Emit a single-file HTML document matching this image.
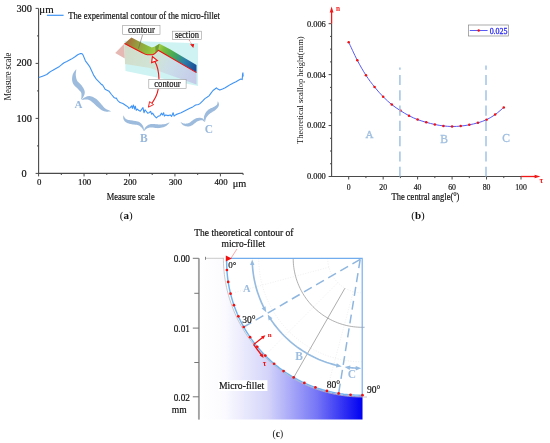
<!DOCTYPE html>
<html><head><meta charset="utf-8"><title>Micro-fillet contour</title>
<style>html,body{margin:0;padding:0;background:#fff;width:550px;height:443px;overflow:hidden}svg{display:block}</style>
</head><body>
<svg width="550" height="443" viewBox="0 0 550 443" font-family="'Liberation Serif', 'Times New Roman', serif">
<path d="M76.25,69.34 L76,69.56 L75.73,69.85 L75.43,70.19 L75.1,70.58 L74.75,71.02 L74.39,71.5 L74.03,72.02 L73.69,72.56 L73.36,73.14 L73.07,73.74 L72.82,74.36 L72.63,74.98 L72.48,75.58 L72.36,76.18 L72.25,76.8 L72.16,77.44 L72.1,78.1 L72.07,78.77 L72.08,79.46 L72.12,80.16 L72.21,80.86 L72.35,81.57 L72.54,82.28 L72.8,83 L73.16,83.74 L73.58,84.43 L74.05,85.06 L74.54,85.63 L75.04,86.16 L75.54,86.66 L76.03,87.11 L76.5,87.54 L76.93,87.93 L77.33,88.29 L77.66,88.61 L77.96,88.92 L78.29,89.29 L78.64,89.68 L78.98,90.04 L79.31,90.39 L79.61,90.72 L79.89,91.03 L80.15,91.32 L80.39,91.6 L80.59,91.86 L80.78,92.11 L80.93,92.34 L81.06,92.56 L81.17,92.77 L81.27,93.02 L81.35,93.31 L81.41,93.63 L81.45,93.98 L81.47,94.35 L81.48,94.73 L81.48,95.12 L81.48,95.51 L81.46,95.89 L81.45,96.26 L81.44,96.59 L81.44,96.88 L81.42,97.16 L81.39,97.44 L81.35,97.72 L81.29,98 L81.24,98.26 L81.17,98.52 L81.11,98.77 L81.06,98.99 L81.02,99.2 L80.99,99.39 L80.99,99.55 L80.99,99.55 L81.13,99.47 L81.28,99.36 L81.44,99.23 L81.63,99.09 L81.82,98.92 L82.03,98.72 L82.24,98.51 L82.46,98.27 L82.67,98.01 L82.88,97.73 L83.07,97.41 L83.24,97.09 L83.41,96.78 L83.58,96.45 L83.76,96.09 L83.95,95.7 L84.13,95.29 L84.3,94.85 L84.45,94.38 L84.59,93.88 L84.69,93.36 L84.75,92.81 L84.76,92.23 L84.71,91.64 L84.6,91.07 L84.45,90.53 L84.27,90 L84.06,89.49 L83.83,89 L83.58,88.52 L83.31,88.05 L83.03,87.59 L82.75,87.14 L82.46,86.7 L82.17,86.26 L81.85,85.79 L81.44,85.26 L80.98,84.73 L80.51,84.23 L80.04,83.76 L79.57,83.32 L79.12,82.89 L78.7,82.49 L78.31,82.11 L77.96,81.75 L77.67,81.43 L77.44,81.14 L77.25,80.87 L77.08,80.56 L76.9,80.18 L76.73,79.77 L76.58,79.33 L76.43,78.86 L76.3,78.38 L76.19,77.87 L76.09,77.36 L76,76.84 L75.92,76.33 L75.86,75.82 L75.8,75.34 L75.76,74.89 L75.75,74.4 L75.78,73.87 L75.82,73.31 L75.89,72.73 L75.97,72.15 L76.05,71.58 L76.13,71.04 L76.2,70.53 L76.25,70.07 L76.28,69.67 L76.25,69.34Z" fill="#9dbbdc"/>
<path d="M81.53,99.55 L81.93,99.63 L82.43,99.66 L83.02,99.66 L83.67,99.64 L84.36,99.62 L85.07,99.59 L85.79,99.57 L86.49,99.56 L87.14,99.57 L87.73,99.61 L88.22,99.67 L88.6,99.77 L88.92,99.89 L89.24,100.03 L89.56,100.2 L89.87,100.38 L90.19,100.58 L90.51,100.81 L90.84,101.05 L91.19,101.32 L91.55,101.6 L91.92,101.9 L92.32,102.21 L92.7,102.5 L93.04,102.77 L93.35,103.04 L93.68,103.33 L94.01,103.65 L94.36,103.99 L94.73,104.34 L95.11,104.72 L95.5,105.11 L95.92,105.5 L96.35,105.91 L96.81,106.31 L97.27,106.69 L97.7,107.04 L98.13,107.4 L98.58,107.77 L99.04,108.17 L99.53,108.58 L100.04,108.99 L100.58,109.39 L101.13,109.79 L101.71,110.16 L102.31,110.51 L102.93,110.82 L103.58,111.09 L104.27,111.31 L104.99,111.46 L105.72,111.57 L106.44,111.63 L107.16,111.65 L107.87,111.65 L108.54,111.62 L109.18,111.58 L109.76,111.53 L110.27,111.47 L110.71,111.41 L111.07,111.34 L111.07,111.34 L110.77,111.13 L110.36,110.93 L109.89,110.71 L109.35,110.49 L108.78,110.25 L108.18,110 L107.57,109.74 L106.96,109.47 L106.39,109.19 L105.86,108.91 L105.39,108.62 L105.01,108.34 L104.66,108.03 L104.31,107.7 L103.95,107.32 L103.6,106.93 L103.24,106.5 L102.87,106.06 L102.5,105.6 L102.12,105.13 L101.73,104.65 L101.32,104.17 L100.9,103.7 L100.48,103.25 L100.11,102.86 L99.75,102.47 L99.4,102.08 L99.04,101.68 L98.67,101.27 L98.28,100.86 L97.88,100.45 L97.46,100.03 L97.02,99.62 L96.56,99.23 L96.06,98.84 L95.56,98.5 L95.1,98.21 L94.66,97.93 L94.19,97.65 L93.7,97.38 L93.18,97.11 L92.64,96.86 L92.07,96.63 L91.48,96.43 L90.86,96.27 L90.21,96.15 L89.54,96.09 L88.83,96.08 L88.08,96.17 L87.34,96.34 L86.6,96.58 L85.88,96.88 L85.18,97.21 L84.5,97.57 L83.85,97.94 L83.25,98.31 L82.71,98.66 L82.23,98.99 L81.84,99.29 L81.53,99.55Z" fill="#9dbbdc"/>
<path d="M123.51,115.36 L123.45,115.53 L123.41,115.75 L123.36,116 L123.31,116.28 L123.27,116.59 L123.24,116.92 L123.22,117.26 L123.21,117.62 L123.23,117.99 L123.28,118.36 L123.36,118.73 L123.48,119.09 L123.61,119.4 L123.74,119.7 L123.89,120 L124.06,120.3 L124.26,120.6 L124.48,120.9 L124.72,121.19 L124.99,121.48 L125.29,121.76 L125.61,122.03 L125.97,122.28 L126.35,122.53 L126.78,122.76 L127.23,122.97 L127.69,123.16 L128.17,123.34 L128.66,123.49 L129.15,123.64 L129.65,123.77 L130.15,123.89 L130.64,124 L131.13,124.11 L131.6,124.21 L132.08,124.31 L132.62,124.41 L133.18,124.49 L133.73,124.56 L134.27,124.61 L134.8,124.65 L135.32,124.69 L135.81,124.73 L136.28,124.77 L136.72,124.82 L137.12,124.88 L137.47,124.95 L137.8,125.04 L138.12,125.15 L138.45,125.28 L138.77,125.43 L139.1,125.6 L139.41,125.78 L139.73,125.98 L140.03,126.19 L140.33,126.41 L140.62,126.65 L140.91,126.89 L141.18,127.14 L141.44,127.38 L141.67,127.62 L141.9,127.91 L142.14,128.24 L142.37,128.59 L142.59,128.97 L142.81,129.35 L143.02,129.73 L143.22,130.1 L143.4,130.43 L143.58,130.73 L143.74,130.99 L143.9,131.17 L143.9,131.17 L143.91,130.93 L143.91,130.64 L143.91,130.29 L143.89,129.91 L143.87,129.48 L143.83,129.04 L143.77,128.57 L143.69,128.1 L143.59,127.62 L143.46,127.14 L143.29,126.68 L143.09,126.24 L142.87,125.85 L142.65,125.46 L142.4,125.08 L142.13,124.7 L141.84,124.33 L141.53,123.96 L141.19,123.6 L140.82,123.26 L140.44,122.93 L140.02,122.61 L139.58,122.32 L139.1,122.04 L138.57,121.79 L138.02,121.58 L137.46,121.41 L136.89,121.27 L136.33,121.15 L135.78,121.05 L135.23,120.97 L134.7,120.89 L134.19,120.81 L133.71,120.74 L133.25,120.67 L132.81,120.58 L132.33,120.49 L131.83,120.4 L131.33,120.33 L130.83,120.26 L130.35,120.19 L129.88,120.13 L129.43,120.07 L129.01,120.01 L128.61,119.95 L128.25,119.88 L127.93,119.82 L127.64,119.75 L127.37,119.67 L127.11,119.57 L126.87,119.47 L126.63,119.36 L126.41,119.25 L126.2,119.12 L126,118.99 L125.8,118.84 L125.61,118.68 L125.42,118.52 L125.23,118.34 L125.06,118.18 L124.91,118.02 L124.76,117.82 L124.61,117.59 L124.47,117.33 L124.33,117.05 L124.2,116.76 L124.07,116.47 L123.95,116.2 L123.83,115.94 L123.72,115.7 L123.62,115.51 L123.51,115.36Z" fill="#9dbbdc"/>
<path d="M143.9,131.17 L144.07,131.05 L144.25,130.88 L144.44,130.67 L144.65,130.43 L144.87,130.17 L145.11,129.91 L145.36,129.65 L145.61,129.39 L145.87,129.16 L146.14,128.95 L146.4,128.78 L146.67,128.64 L146.98,128.49 L147.32,128.33 L147.67,128.18 L148.03,128.04 L148.4,127.9 L148.78,127.78 L149.16,127.67 L149.56,127.57 L149.96,127.5 L150.37,127.44 L150.78,127.4 L151.19,127.38 L151.6,127.39 L152.07,127.43 L152.6,127.5 L153.18,127.59 L153.8,127.69 L154.45,127.79 L155.13,127.9 L155.83,127.99 L156.53,128.07 L157.25,128.12 L157.97,128.13 L158.67,128.1 L159.32,128.04 L159.94,127.96 L160.55,127.87 L161.16,127.75 L161.76,127.62 L162.35,127.47 L162.93,127.31 L163.49,127.13 L164.03,126.93 L164.56,126.72 L165.06,126.5 L165.55,126.25 L166.04,125.98 L166.51,125.66 L166.95,125.32 L167.36,124.96 L167.75,124.6 L168.1,124.23 L168.42,123.88 L168.71,123.53 L168.97,123.21 L169.19,122.92 L169.38,122.67 L169.53,122.45 L169.53,122.45 L169.26,122.5 L168.96,122.6 L168.61,122.74 L168.24,122.9 L167.83,123.07 L167.41,123.25 L166.97,123.43 L166.52,123.61 L166.07,123.77 L165.62,123.91 L165.19,124.02 L164.77,124.1 L164.34,124.16 L163.87,124.22 L163.38,124.27 L162.88,124.31 L162.37,124.35 L161.84,124.38 L161.31,124.4 L160.77,124.42 L160.22,124.43 L159.66,124.43 L159.11,124.43 L158.57,124.43 L158.06,124.41 L157.51,124.36 L156.92,124.29 L156.29,124.22 L155.63,124.14 L154.95,124.06 L154.26,123.99 L153.56,123.93 L152.86,123.9 L152.15,123.91 L151.46,123.96 L150.79,124.06 L150.17,124.21 L149.59,124.39 L149.05,124.6 L148.54,124.83 L148.06,125.09 L147.61,125.37 L147.19,125.65 L146.8,125.95 L146.43,126.25 L146.1,126.55 L145.79,126.85 L145.49,127.16 L145.19,127.51 L144.93,127.89 L144.71,128.28 L144.53,128.67 L144.38,129.06 L144.26,129.44 L144.16,129.8 L144.08,130.14 L144.01,130.45 L143.96,130.73 L143.92,130.97 L143.9,131.17Z" fill="#9dbbdc"/>
<path d="M180.64,122.06 L180.73,122.25 L180.86,122.48 L181.01,122.74 L181.19,123.04 L181.4,123.36 L181.63,123.69 L181.9,124.02 L182.19,124.36 L182.52,124.68 L182.89,124.99 L183.3,125.26 L183.73,125.49 L184.15,125.67 L184.58,125.84 L185.03,125.99 L185.52,126.14 L186.03,126.26 L186.57,126.36 L187.13,126.43 L187.72,126.47 L188.32,126.46 L188.95,126.41 L189.59,126.3 L190.26,126.13 L190.96,125.87 L191.65,125.53 L192.31,125.13 L192.95,124.71 L193.58,124.25 L194.18,123.79 L194.76,123.33 L195.31,122.88 L195.82,122.47 L196.3,122.11 L196.72,121.81 L197.11,121.57 L197.52,121.36 L197.95,121.16 L198.38,120.97 L198.82,120.8 L199.24,120.65 L199.66,120.52 L200.07,120.41 L200.47,120.32 L200.84,120.25 L201.2,120.21 L201.53,120.18 L201.81,120.17 L202.04,120.18 L202.28,120.23 L202.55,120.34 L202.83,120.5 L203.12,120.69 L203.42,120.92 L203.7,121.15 L203.97,121.39 L204.23,121.61 L204.46,121.81 L204.68,121.96 L204.88,122.06 L204.88,122.06 L204.82,121.86 L204.74,121.61 L204.64,121.32 L204.53,121 L204.39,120.65 L204.22,120.28 L204.02,119.91 L203.79,119.53 L203.51,119.17 L203.17,118.83 L202.76,118.54 L202.31,118.31 L201.85,118.15 L201.39,118.03 L200.9,117.94 L200.39,117.87 L199.86,117.84 L199.31,117.83 L198.74,117.85 L198.16,117.91 L197.57,118 L196.97,118.12 L196.36,118.28 L195.73,118.48 L195.06,118.77 L194.39,119.13 L193.74,119.53 L193.11,119.96 L192.49,120.42 L191.9,120.88 L191.33,121.33 L190.79,121.76 L190.28,122.15 L189.82,122.48 L189.41,122.75 L189.05,122.95 L188.69,123.11 L188.3,123.25 L187.91,123.37 L187.51,123.46 L187.1,123.53 L186.69,123.59 L186.27,123.62 L185.86,123.64 L185.45,123.64 L185.05,123.63 L184.66,123.61 L184.31,123.59 L184,123.56 L183.68,123.49 L183.35,123.38 L183.01,123.25 L182.66,123.08 L182.32,122.91 L181.98,122.73 L181.67,122.55 L181.37,122.38 L181.1,122.23 L180.85,122.12 L180.64,122.06Z" fill="#9dbbdc"/>
<path d="M204.88,122.06 L205,121.81 L205.1,121.5 L205.19,121.13 L205.29,120.72 L205.39,120.29 L205.49,119.84 L205.61,119.38 L205.74,118.92 L205.88,118.49 L206.04,118.09 L206.21,117.74 L206.4,117.43 L206.62,117.11 L206.87,116.76 L207.15,116.41 L207.44,116.05 L207.75,115.69 L208.07,115.33 L208.41,114.97 L208.75,114.62 L209.1,114.28 L209.45,113.96 L209.8,113.65 L210.13,113.37 L210.44,113.13 L210.79,112.89 L211.19,112.65 L211.62,112.4 L212.08,112.14 L212.56,111.87 L213.06,111.6 L213.56,111.31 L214.07,111 L214.57,110.68 L215.06,110.33 L215.5,109.96 L215.87,109.62 L216.22,109.29 L216.55,108.96 L216.88,108.62 L217.19,108.27 L217.49,107.92 L217.77,107.56 L218.03,107.19 L218.27,106.81 L218.48,106.41 L218.66,106.01 L218.81,105.57 L218.91,105.1 L218.94,104.63 L218.91,104.17 L218.84,103.73 L218.74,103.31 L218.62,102.91 L218.48,102.54 L218.34,102.19 L218.2,101.88 L218.06,101.61 L217.95,101.38 L217.84,101.2 L217.84,101.2 L217.76,101.4 L217.7,101.66 L217.64,101.96 L217.6,102.3 L217.55,102.65 L217.49,103.01 L217.42,103.38 L217.34,103.72 L217.25,104.05 L217.13,104.33 L217.01,104.55 L216.87,104.72 L216.71,104.89 L216.52,105.07 L216.3,105.26 L216.06,105.44 L215.8,105.63 L215.51,105.82 L215.21,106.02 L214.88,106.22 L214.53,106.43 L214.17,106.65 L213.79,106.88 L213.42,107.09 L213.07,107.28 L212.68,107.47 L212.25,107.67 L211.78,107.88 L211.27,108.11 L210.75,108.35 L210.2,108.62 L209.65,108.92 L209.1,109.24 L208.55,109.61 L208.01,110.01 L207.52,110.45 L207.08,110.9 L206.68,111.36 L206.3,111.84 L205.95,112.33 L205.61,112.84 L205.3,113.36 L205.02,113.88 L204.76,114.41 L204.53,114.95 L204.33,115.48 L204.17,116.01 L204.03,116.54 L203.93,117.11 L203.89,117.69 L203.9,118.25 L203.95,118.8 L204.04,119.33 L204.14,119.84 L204.27,120.32 L204.4,120.76 L204.53,121.16 L204.65,121.51 L204.77,121.81 L204.88,122.06Z" fill="#9dbbdc"/>
<text x="78.5" y="108.4" font-size="11" text-anchor="middle" fill="#98b8dc" font-weight="bold">A</text>
<text x="143.9" y="142.4" font-size="11.5" text-anchor="middle" fill="#98b8dc" font-weight="bold">B</text>
<text x="208.8" y="133.2" font-size="11.5" text-anchor="middle" fill="#98b8dc" font-weight="bold">C</text>
<path d="M38.6,8.4V173.4H243.12" fill="none" stroke="#4a4a4a" stroke-width="1.1"/>
<path d="M35.6,173.4H38.6M37,145.9H38.6M35.6,118.4H38.6M37,90.9H38.6M35.6,63.4H38.6M37,35.9H38.6M35.6,8.4H38.6M38.6,173.4V176.4M61.33,173.4V175M84.05,173.4V176.4M106.78,173.4V175M129.5,173.4V176.4M152.22,173.4V175M174.95,173.4V176.4M197.68,173.4V175M220.4,173.4V176.4M243.12,173.4V175" stroke="#4a4a4a" stroke-width="1" fill="none"/>
<text x="24.2" y="176.6" font-size="10.3" text-anchor="middle" fill="#111" font-weight="normal" stroke="#111" stroke-width="0.18">0</text>
<text x="24.2" y="121.7" font-size="10.3" text-anchor="middle" fill="#111" font-weight="normal" stroke="#111" stroke-width="0.18">100</text>
<text x="24.2" y="66.4" font-size="10.3" text-anchor="middle" fill="#111" font-weight="normal" stroke="#111" stroke-width="0.18">200</text>
<text x="24.2" y="11.5" font-size="10.3" text-anchor="middle" fill="#111" font-weight="normal" stroke="#111" stroke-width="0.18">300</text>
<text x="39.2" y="185.1" font-size="8.8" text-anchor="middle" fill="#111" font-weight="normal" stroke="#111" stroke-width="0.18">0</text>
<text x="84.65" y="185.1" font-size="8.8" text-anchor="middle" fill="#111" font-weight="normal" stroke="#111" stroke-width="0.18">100</text>
<text x="130.1" y="185.1" font-size="8.8" text-anchor="middle" fill="#111" font-weight="normal" stroke="#111" stroke-width="0.18">200</text>
<text x="175.55" y="185.1" font-size="8.8" text-anchor="middle" fill="#111" font-weight="normal" stroke="#111" stroke-width="0.18">300</text>
<text x="221" y="185.1" font-size="8.8" text-anchor="middle" fill="#111" font-weight="normal" stroke="#111" stroke-width="0.18">400</text>
<text x="46.5" y="12.8" font-size="10.9" text-anchor="middle" fill="#111" font-weight="normal" stroke="#111" stroke-width="0.18">&#956;m</text>
<text x="239.5" y="186.5" font-size="10.3" text-anchor="middle" fill="#111" font-weight="normal" stroke="#111" stroke-width="0.18">&#956;m</text>
<text x="130.7" y="199.6" font-size="9.6" text-anchor="middle" fill="#111" font-weight="normal" textLength="48" lengthAdjust="spacingAndGlyphs" stroke="#111" stroke-width="0.18">Measure scale</text>
<text transform="translate(10.6,76.6) rotate(-90)" x="0" y="0" font-size="9.6" text-anchor="middle" fill="#111" textLength="47.8" lengthAdjust="spacingAndGlyphs">Measure scale</text>
<text x="126.2" y="218.7" font-size="11" text-anchor="middle" fill="#111" font-weight="normal" stroke-width="0">(<tspan font-weight="bold">a</tspan>)</text>
<path d="M46.9,15.3H63.6" stroke="#4094f4" stroke-width="1.2"/>
<text x="68.2" y="18.6" font-size="9.6" text-anchor="start" fill="#111" font-weight="normal" textLength="151.8" lengthAdjust="spacingAndGlyphs" stroke="#111" stroke-width="0.18">The experimental contour of the micro-fillet</text>
<polyline points="38.8,77.6 43.2,75.9 46.8,74.5 49.5,72.3 52.5,70.4 55.9,68.5 59.5,66.4 62,64.3 64.1,62.7 66.8,61.5 71.4,59.1 75,56.8 77.7,54.8 80.5,53.6 81.3,53.5 82.4,54 83.3,55.6 85.4,60.8 87.5,63.6 89.5,66.3 91.5,70.5 93.6,75.1 96.3,79.1 99.5,82.3 101.6,84.6 102.6,84.9 103.5,86.5 105.1,89.3 107,90.2 109.1,91.3 111.5,94.5 113.9,97.4 115.5,98.3 116.3,98 117.5,100.3 119.2,101.8 120,102.55 122.91,103.56 125.82,105.45 128,106.91 128.73,108.36 130.18,107.64 131.64,105.89 132.36,108.36 133.38,105.02 134.55,109.09 135.27,106.18 136.29,110.25 137.45,109.09 138.91,110.55 140.36,111.27 141.82,109.09 142.98,107.64 144,112.73 145.02,109.82 146.18,111.27 147.64,113.16 149.09,112.73 150.55,111.27 151.71,114.18 152.73,113.16 154.18,115.64 156.36,117.82 158.11,116.36 160,115.64 161.45,113.16 162.47,114.91 163.64,112.73 164.36,116.07 165.82,114.91 168,115.64 170.18,114.91 171.64,116.36 173.09,112.73 174.11,116.07 176,114.62 178.18,113.75 181.09,112.73 184,111.27 186.91,109.82 189.82,108.36 192.73,106.91 195.64,105.02 198.55,104.44 200.2,103.4 202.5,101.2 204.9,98.6 207,97.3 209,95.9 211,93.2 213,90.5 215,89 216.4,87.8 217.8,89.1 219.8,90.1 222.5,89 225.2,87.8 228,86 230.6,84.4 233.3,83 236,81.7 238.5,80.2 240.8,79 242.2,79.6 242.6,74 242.9,72.9 243.2,76.5" fill="none" stroke="#4094f4" stroke-width="1.1" stroke-linejoin="round"/>

<defs>
<linearGradient id="topg" x1="128" y1="38" x2="197" y2="66" gradientUnits="userSpaceOnUse">
<stop offset="0" stop-color="#a86a3a"/><stop offset="0.13" stop-color="#98983e"/><stop offset="0.3" stop-color="#8cbc3c"/>
<stop offset="0.42" stop-color="#a8d048"/><stop offset="0.5" stop-color="#78bc3c"/>
<stop offset="0.66" stop-color="#44a858"/><stop offset="0.82" stop-color="#2a80a8"/><stop offset="1" stop-color="#1a4a98"/></linearGradient>
<linearGradient id="frontg" x1="125" y1="50" x2="197" y2="86" gradientUnits="userSpaceOnUse">
<stop offset="0" stop-color="#d2ddca"/><stop offset="0.4" stop-color="#d0e4d6"/><stop offset="0.62" stop-color="#cadcea"/><stop offset="1" stop-color="#c4c8e8"/></linearGradient>
</defs>
<polygon points="115.2,53.1 124.5,43.6 124.8,58.5" fill="#e6b8b4"/>
<polygon points="124.5,40.8 198,43.2 198,86 125.5,71" fill="#cff3f3"/>
<path d="M124.5,43.4 L142.7,52.9 Q145,54.5 147.3,54.7 L152.7,54.7 Q155,53.8 156.4,52 L158.2,50.2 L196.5,72.6 L196.5,84.5 L150,68 L125,64 Z" fill="url(#frontg)"/>
<path d="M124.5,43.4 L131.4,37.6 L138.2,41.1 L147.3,45.6 L151.8,47.5 Q154.5,47.2 156.4,45.6 L159.5,43.8 L170,49.3 L196.5,65 L196.5,72.6 L158.2,50.2 L156.4,52 Q155,53.8 152.7,54.7 L147.3,54.7 Q145,54.5 142.7,52.9 Z" fill="url(#topg)"/>
<path d="M124.5,43.4 L142.7,52.9 Q145,54.5 147.3,54.7 L152.7,54.7 Q155,53.8 156.4,52 L158.2,50.2 L196.5,72.6" fill="none" stroke="#ee1111" stroke-width="1.1"/>
<polygon points="155.3,46.4 159.5,43.7 158.6,48 157.6,50.8 155.6,52.6" fill="#5c8a36" opacity="0.75"/>
<path d="M142.5,35 L138.5,48.5" stroke="#555" stroke-width="0.5"/>
<rect x="122.7" y="25.6" width="37.3" height="8.9" fill="#fff" stroke="#999" stroke-width="0.6"/>
<rect x="172.5" y="31.2" width="29" height="8.1" fill="#fff" stroke="#999" stroke-width="0.6"/>
<path d="M189.1,39.9 L191.5,44" stroke="#ee1111" stroke-width="0.6" stroke-dasharray="1,1"/>
<polygon points="190,44.2 194.2,44 193.3,48" fill="#ee1111"/>
<path d="M158.3,88.6 Q157,97 150.6,104.8" fill="none" stroke="#ee1111" stroke-width="1.1"/>
<polygon points="148.4,107.2 149.6,101.6 153.6,104.6" fill="#fff" stroke="#ee1111" stroke-width="0.9"/>
<path d="M159,79.5 Q158.7,68 155,61.8" fill="none" stroke="#ee1111" stroke-width="1.1"/>
<polygon points="152.4,56.6 151.6,62.6 157.4,60.6" fill="#fff" stroke="#ee1111" stroke-width="1.1"/>
<rect x="148.8" y="79.6" width="37.3" height="8.9" fill="#fff" stroke="#999" stroke-width="0.6"/>

<text x="141.4" y="32.6" font-size="9.4" text-anchor="middle" fill="#111" font-weight="normal" textLength="27" lengthAdjust="spacingAndGlyphs" stroke="#111" stroke-width="0.18">contour</text>
<text x="187" y="37.9" font-size="9.4" text-anchor="middle" fill="#111" font-weight="normal" textLength="24" lengthAdjust="spacingAndGlyphs" stroke="#111" stroke-width="0.18">section</text>
<text x="167.5" y="86.8" font-size="9.4" text-anchor="middle" fill="#111" font-weight="normal" textLength="26.5" lengthAdjust="spacingAndGlyphs" stroke="#111" stroke-width="0.18">contour</text>
<path d="M331.6,23.68V176.5H521" fill="none" stroke="#4a4a4a" stroke-width="1.1"/>
<path d="M328.6,176.5H331.6M330,163.76H331.6M330,151.03H331.6M330,138.3H331.6M328.6,125.56H331.6M330,112.83H331.6M330,100.09H331.6M330,87.36H331.6M328.6,74.62H331.6M330,61.89H331.6M330,49.15H331.6M330,36.42H331.6M328.6,23.68H331.6M348.7,176.5V179.5M365.93,176.5V178.1M383.16,176.5V179.5M400.39,176.5V178.1M417.62,176.5V179.5M434.85,176.5V178.1M452.08,176.5V179.5M469.31,176.5V178.1M486.54,176.5V179.5M503.77,176.5V178.1M521,176.5V179.5" stroke="#4a4a4a" stroke-width="1" fill="none"/>
<path d="M331.6,23.68V11.5" stroke="#f01818" stroke-width="1.3"/>
<polygon points="331.6,6.6 329.7,12.6 333.5,12.6" fill="#f01818"/>
<text x="337.9" y="11.1" font-size="7.2" text-anchor="middle" fill="#f01818" font-weight="bold">n</text>
<path d="M521,176.5H535.5" stroke="#f01818" stroke-width="1.3"/>
<polygon points="540.4,176.5 534.6,174.7 534.6,178.3" fill="#f01818"/>
<text x="541.3" y="182.6" font-size="8" text-anchor="middle" fill="#f01818" font-weight="bold">&#964;</text>
<text x="325.8" y="179.4" font-size="8.4" text-anchor="end" fill="#111" font-weight="normal" stroke="#111" stroke-width="0.18">0.000</text>
<text x="325.8" y="128.46" font-size="8.4" text-anchor="end" fill="#111" font-weight="normal" stroke="#111" stroke-width="0.18">0.002</text>
<text x="325.8" y="77.52" font-size="8.4" text-anchor="end" fill="#111" font-weight="normal" stroke="#111" stroke-width="0.18">0.004</text>
<text x="325.8" y="26.58" font-size="8.4" text-anchor="end" fill="#111" font-weight="normal" stroke="#111" stroke-width="0.18">0.006</text>
<text x="348.7" y="190.2" font-size="8.6" text-anchor="middle" fill="#111" font-weight="normal" textLength="3.87" lengthAdjust="spacingAndGlyphs" stroke="#111" stroke-width="0.18">0</text>
<text x="383.16" y="190.2" font-size="8.6" text-anchor="middle" fill="#111" font-weight="normal" textLength="7.74" lengthAdjust="spacingAndGlyphs" stroke="#111" stroke-width="0.18">20</text>
<text x="417.62" y="190.2" font-size="8.6" text-anchor="middle" fill="#111" font-weight="normal" textLength="7.74" lengthAdjust="spacingAndGlyphs" stroke="#111" stroke-width="0.18">40</text>
<text x="452.08" y="190.2" font-size="8.6" text-anchor="middle" fill="#111" font-weight="normal" textLength="7.74" lengthAdjust="spacingAndGlyphs" stroke="#111" stroke-width="0.18">60</text>
<text x="486.54" y="190.2" font-size="8.6" text-anchor="middle" fill="#111" font-weight="normal" textLength="7.74" lengthAdjust="spacingAndGlyphs" stroke="#111" stroke-width="0.18">80</text>
<text x="521" y="190.2" font-size="8.6" text-anchor="middle" fill="#111" font-weight="normal" textLength="11.61" lengthAdjust="spacingAndGlyphs" stroke="#111" stroke-width="0.18">100</text>
<text transform="translate(303.0,90.2) rotate(-90)" x="0" y="0" font-size="8.8" text-anchor="middle" fill="#111" textLength="107.7" lengthAdjust="spacingAndGlyphs">Theoretical scallop height(mm)</text>
<text x="425.5" y="200.2" font-size="9.4" text-anchor="middle" fill="#111" font-weight="normal" textLength="67.9" lengthAdjust="spacingAndGlyphs" stroke="#111" stroke-width="0.18">The central angle(&#176;)</text>
<text x="418" y="219.2" font-size="11" text-anchor="middle" fill="#111" font-weight="normal" stroke-width="0">(<tspan font-weight="bold">b</tspan>)</text>
<text x="369.4" y="137.7" font-size="11" text-anchor="middle" fill="#a0bfe0" font-weight="normal" stroke="#a0bfe0" stroke-width="0.35">A</text>
<text x="444.2" y="142.7" font-size="11.5" text-anchor="middle" fill="#a0bfe0" font-weight="normal" stroke="#a0bfe0" stroke-width="0.35">B</text>
<text x="506.1" y="142.2" font-size="11.5" text-anchor="middle" fill="#a0bfe0" font-weight="normal" stroke="#a0bfe0" stroke-width="0.35">C</text>
<path d="M348.7,42.2 C350.14,45.22 354.44,54.8 357.31,60.3 C360.19,65.8 363.06,70.75 365.93,75.2 C368.8,79.65 371.67,83.42 374.55,87 C377.42,90.58 380.29,93.77 383.16,96.7 C386.03,99.63 388.9,102.28 391.77,104.6 C394.65,106.92 397.52,108.75 400.39,110.6 C403.26,112.45 406.13,114.2 409,115.7 C411.88,117.2 414.75,118.5 417.62,119.6 C420.49,120.7 423.36,121.48 426.24,122.3 C429.11,123.12 431.98,123.9 434.85,124.5 C437.72,125.1 440.59,125.57 443.46,125.9 C446.34,126.23 449.21,126.47 452.08,126.5 C454.95,126.53 457.82,126.38 460.69,126.1 C463.57,125.82 466.44,125.35 469.31,124.8 C472.18,124.25 475.05,123.65 477.92,122.8 C480.8,121.95 483.67,121.07 486.54,119.7 C489.41,118.33 492.28,116.65 495.15,114.6 C498.03,112.55 502.33,108.6 503.77,107.4" fill="none" stroke="#5a5af5" stroke-width="1"/>
<circle cx="348.7" cy="42.2" r="1.25" fill="#f01010"/>
<circle cx="357.31" cy="60.3" r="1.25" fill="#f01010"/>
<circle cx="365.93" cy="75.2" r="1.25" fill="#f01010"/>
<circle cx="374.55" cy="87" r="1.25" fill="#f01010"/>
<circle cx="383.16" cy="96.7" r="1.25" fill="#f01010"/>
<circle cx="391.77" cy="104.6" r="1.25" fill="#f01010"/>
<circle cx="400.39" cy="110.6" r="1.25" fill="#f01010"/>
<circle cx="409" cy="115.7" r="1.25" fill="#f01010"/>
<circle cx="417.62" cy="119.6" r="1.25" fill="#f01010"/>
<circle cx="426.24" cy="122.3" r="1.25" fill="#f01010"/>
<circle cx="434.85" cy="124.5" r="1.25" fill="#f01010"/>
<circle cx="443.46" cy="125.9" r="1.25" fill="#f01010"/>
<circle cx="452.08" cy="126.5" r="1.25" fill="#f01010"/>
<circle cx="460.69" cy="126.1" r="1.25" fill="#f01010"/>
<circle cx="469.31" cy="124.8" r="1.25" fill="#f01010"/>
<circle cx="477.92" cy="122.8" r="1.25" fill="#f01010"/>
<circle cx="486.54" cy="119.7" r="1.25" fill="#f01010"/>
<circle cx="495.15" cy="114.6" r="1.25" fill="#f01010"/>
<circle cx="503.77" cy="107.4" r="1.25" fill="#f01010"/>
<path d="M399.9,176.5V67.4M486,176.5V65.6" stroke="#a2c4e6" stroke-width="1.7" stroke-dasharray="10.2,5.1" stroke-dashoffset="0.4" fill="none" opacity="0.9"/>
<rect x="468.6" y="25" width="40" height="11" fill="#fff" stroke="#888" stroke-width="0.7"/>
<path d="M469.8,30.5H487.6" stroke="#5a5af5" stroke-width="1"/><circle cx="478.7" cy="30.5" r="1.2" fill="#f01010"/>
<text x="498.6" y="33.6" font-size="9.2" text-anchor="middle" fill="#2a2af0" font-weight="normal" textLength="17.9" lengthAdjust="spacingAndGlyphs" stroke="#2a2af0" stroke-width="0.3">0.025</text>
<defs><linearGradient id="mf" x1="199.5" y1="0" x2="362.5" y2="0" gradientUnits="userSpaceOnUse">
<stop offset="0" stop-color="#ffffff"/><stop offset="0.15" stop-color="#fbfbff"/><stop offset="0.42" stop-color="#d4d4fa"/><stop offset="0.72" stop-color="#7676f6"/><stop offset="1" stop-color="#0000f2"/></linearGradient></defs>
<path d="M199.5,258.3 L223.9,258.3 L223.9,257.9 L223.93,260.62 L224.01,263.34 L224.14,266.06 L224.33,268.77 L224.57,271.49 L224.86,274.19 L225.21,276.89 L225.61,279.58 L226.06,282.27 L226.56,284.94 L227.12,287.6 L227.73,290.26 L228.39,292.9 L229.1,295.52 L229.87,298.13 L230.68,300.73 L231.55,303.31 L232.47,305.87 L233.43,308.42 L234.45,310.94 L235.52,313.44 L236.63,315.93 L237.79,318.39 L239.01,320.82 L240.27,323.24 L241.57,325.62 L242.93,327.98 L244.32,330.32 L245.77,332.62 L247.26,334.9 L248.79,337.15 L250.37,339.37 L251.99,341.55 L253.66,343.71 L255.36,345.83 L257.11,347.91 L258.9,349.97 L260.72,351.98 L262.59,353.96 L264.5,355.9 L266.44,357.81 L268.42,359.68 L270.43,361.5 L272.49,363.29 L274.57,365.04 L276.69,366.74 L278.85,368.41 L281.03,370.03 L283.25,371.61 L285.5,373.14 L287.78,374.63 L290.08,376.08 L292.42,377.47 L294.78,378.83 L297.16,380.13 L299.58,381.39 L302.01,382.61 L304.47,383.77 L306.96,384.88 L309.46,385.95 L311.98,386.97 L314.53,387.93 L317.09,388.85 L319.67,389.72 L322.27,390.53 L324.88,391.3 L327.5,392.01 L330.14,392.67 L332.8,393.28 L335.46,393.84 L338.13,394.34 L340.82,394.79 L343.51,395.19 L346.21,395.54 L348.91,395.83 L351.63,396.07 L354.34,396.26 L357.06,396.39 L359.78,396.47 L362.5,396.5 L362.5,419.6 L199.5,419.6 Z" fill="url(#mf)"/>
<path d="M327.7,258.3 L327.71,259.2 L327.75,260.11 L327.81,261.01 L327.89,261.91 L328,262.8 L328.12,263.7 L328.28,264.59 L328.45,265.47 L328.65,266.35 L328.88,267.23 L329.12,268.1 L329.39,268.96 L329.68,269.82 L329.99,270.66 L330.33,271.5 L330.68,272.33 L331.06,273.15 L331.46,273.96 L331.88,274.76 L332.32,275.55 L332.78,276.33 L333.27,277.09 L333.77,277.84 L334.29,278.58 L334.83,279.3 L335.39,280.01 L335.97,280.71 L336.56,281.39 L337.17,282.05 L337.8,282.7 L338.45,283.33 L339.11,283.94 L339.79,284.53 L340.49,285.11 L341.2,285.67 L341.92,286.21 L342.66,286.73 L343.41,287.23 L344.17,287.72 L344.95,288.18 L345.74,288.62 L346.54,289.04 L347.35,289.44 L348.17,289.82 L349,290.17 L349.84,290.51 L350.68,290.82 L351.54,291.11 L352.4,291.38 L353.27,291.62 L354.15,291.85 L355.03,292.05 L355.91,292.22 L356.8,292.38 L357.7,292.5 L358.59,292.61 L359.49,292.69 L360.39,292.75 L361.3,292.79 L362.2,292.8 M258.7,258.3 L258.74,261.01 L258.84,263.72 L259.02,266.42 L259.27,269.12 L259.59,271.81 L259.97,274.49 L260.43,277.16 L260.96,279.82 L261.56,282.46 L262.23,285.09 L262.96,287.7 L263.77,290.28 L264.64,292.85 L265.57,295.39 L266.58,297.91 L267.65,300.4 L268.78,302.86 L269.98,305.29 L271.24,307.69 L272.57,310.05 L273.95,312.38 L275.4,314.67 L276.9,316.92 L278.47,319.14 L280.09,321.31 L281.77,323.43 L283.5,325.52 L285.28,327.56 L287.12,329.54 L289.01,331.49 L290.96,333.38 L292.94,335.22 L294.98,337 L297.07,338.73 L299.19,340.41 L301.36,342.03 L303.58,343.6 L305.83,345.1 L308.12,346.55 L310.45,347.93 L312.81,349.26 L315.21,350.52 L317.64,351.72 L320.1,352.85 L322.59,353.92 L325.11,354.93 L327.65,355.86 L330.22,356.73 L332.8,357.54 L335.41,358.27 L338.04,358.94 L340.68,359.54 L343.34,360.07 L346.01,360.53 L348.69,360.91 L351.38,361.23 L354.08,361.48 L356.78,361.66 L359.49,361.76 L362.2,361.8 M328.88,267.23L233.73,292.72 M337.8,282.7L268.15,352.35 M353.27,291.62L327.78,386.77" fill="none" stroke="#e4e4e4" stroke-width="0.6" stroke-dasharray="1,1.6"/>
<path d="M293.2,258.3 L293.22,260.15 L293.3,261.99 L293.42,263.83 L293.59,265.67 L293.82,267.51 L294.09,269.33 L294.41,271.15 L294.78,272.96 L295.19,274.76 L295.66,276.55 L296.17,278.32 L296.73,280.08 L297.33,281.82 L297.99,283.55 L298.69,285.26 L299.43,286.95 L300.22,288.62 L301.05,290.27 L301.93,291.89 L302.85,293.49 L303.81,295.07 L304.82,296.62 L305.86,298.14 L306.95,299.63 L308.08,301.1 L309.24,302.53 L310.44,303.93 L311.68,305.3 L312.96,306.63 L314.27,307.93 L315.61,309.2 L316.99,310.43 L318.4,311.62 L319.85,312.77 L321.32,313.89 L322.82,314.96 L324.35,315.99 L325.91,316.98 L327.49,317.93 L329.1,318.84 L330.73,319.71 L332.39,320.53 L334.06,321.3 L335.76,322.03 L337.47,322.72 L339.21,323.36 L340.95,323.95 L342.72,324.49 L344.5,324.99 L346.29,325.44 L348.09,325.84 L349.9,326.2 L351.72,326.5 L353.55,326.76 L355.39,326.96 L357.23,327.12 L359.07,327.23 L360.92,327.29 L362.76,327.3 L364.61,327.26" fill="none" stroke="#9a9a9a" stroke-width="0.8"/>
<path d="M344.95,288.18L293.71,377.47" stroke="#8a8a8a" stroke-width="0.7"/>
<path d="M205.5,258.3 L223.4,258.3 L223.4,257.9 L223.43,260.63 L223.51,263.36 L223.64,266.09 L223.83,268.81 L224.07,271.53 L224.36,274.25 L224.71,276.96 L225.11,279.66 L225.57,282.35 L226.07,285.04 L226.63,287.71 L227.24,290.37 L227.91,293.02 L228.62,295.66 L229.39,298.28 L230.21,300.88 L231.08,303.47 L232,306.04 L232.97,308.6 L233.99,311.13 L235.06,313.64 L236.18,316.14 L237.35,318.6 L238.56,321.05 L239.82,323.47 L241.14,325.87 L242.49,328.24 L243.9,330.58 L245.35,332.89 L246.84,335.18 L248.38,337.44 L249.97,339.66 L251.59,341.85 L253.26,344.02 L254.97,346.14 L256.73,348.24 L258.52,350.3 L260.36,352.32 L262.23,354.31 L264.14,356.26 L266.09,358.17 L268.08,360.04 L270.1,361.88 L272.16,363.67 L274.26,365.43 L276.38,367.14 L278.55,368.81 L280.74,370.43 L282.96,372.02 L285.22,373.56 L287.51,375.05 L289.82,376.5 L292.16,377.91 L294.53,379.26 L296.93,380.58 L299.35,381.84 L301.8,383.05 L304.26,384.22 L306.76,385.34 L309.27,386.41 L311.8,387.43 L314.36,388.4 L316.93,389.32 L319.52,390.19 L322.12,391.01 L324.74,391.78 L327.38,392.49 L330.03,393.16 L332.69,393.77 L335.36,394.33 L338.05,394.83 L340.74,395.29 L343.44,395.69 L346.15,396.04 L348.87,396.33 L351.59,396.57 L354.31,396.76 L357.04,396.89 L359.77,396.97 L362.5,397 L367,397" fill="none" stroke="#bdbdbd" stroke-width="0.8"/>
<path d="M205.5,256.8V259.8" stroke="#666" stroke-width="0.8"/>
<path d="M230.5,258.3H362.2V395.3" fill="none" stroke="#70acee" stroke-width="1.15"/>
<path d="M226.7,258.05 L226.65,260.74 L226.66,263.44 L226.73,266.13 L226.84,268.83 L227.01,271.52 L227.24,274.21 L227.52,276.89 L227.86,279.56 L228.24,282.23 L228.69,284.89 L229.18,287.54 L229.73,290.18 L230.33,292.81 L230.99,295.42 L231.7,298.02 L232.46,300.61 L233.27,303.18 L234.13,305.73 L235.05,308.27 L236.02,310.78 L237.03,313.28 L238.1,315.76 L239.22,318.21 L240.38,320.64 L241.6,323.05 L242.86,325.43 L244.17,327.78 L245.53,330.11 L246.94,332.41 L248.39,334.69 L249.89,336.93 L251.43,339.14 L253.02,341.32 L254.65,343.47 L256.32,345.58 L258.03,347.66 L259.79,349.7 L261.59,351.71 L263.43,353.68 L265.31,355.62 L267.22,357.51 L269.18,359.37 L271.17,361.19 L273.19,362.97 L275.26,364.7 L277.36,366.39 L279.49,368.05 L281.65,369.65 L283.85,371.22 L286.08,372.73 L288.33,374.21 L290.62,375.64 L292.94,377.02 L295.28,378.35 L297.65,379.64 L300.04,380.87 L302.46,382.06 L304.9,383.21 L307.37,384.3 L309.86,385.34 L312.36,386.33 L314.89,387.27 L317.43,388.16 L320,388.99 L322.58,389.78 L325.17,390.51 L327.78,391.19 L330.4,391.82 L333.04,392.39 L335.68,392.91 L338.34,393.38 L341,393.8 L343.67,394.16 L346.35,394.46 L349.03,394.71 L351.72,394.91 L354.41,395.06 L357.11,395.14 L359.8,395.18 L362.5,395.16" fill="none" stroke="#74b2ee" stroke-width="1.45"/>
<path d="M360.2,259.3L243.73,327" stroke="#8fb6de" stroke-width="1.5" stroke-dasharray="9,5" fill="none"/>
<path d="M360.2,259.3L338.63,393.43" stroke="#8fb6de" stroke-width="1.5" stroke-dasharray="9,5" fill="none"/>
<path d="M252.33,263.67 L252.42,265.23 L252.53,266.78 L252.66,268.33 L252.81,269.87 L252.99,271.42 L253.18,272.96 L253.4,274.5 L253.64,276.04 L253.9,277.57 L254.18,279.1 L254.49,280.63 L254.82,282.15 L255.16,283.66 L255.53,285.17 L255.92,286.68 L256.34,288.18 L256.77,289.67 L257.22,291.16 L257.7,292.64 L258.19,294.11 L258.71,295.58 L259.25,297.04 L259.8,298.49 L260.38,299.93 L260.98,301.37 L261.6,302.8 L262.24,304.21 L262.9,305.62 L263.58,307.02 L264.28,308.41" fill="none" stroke="#96bbe0" stroke-width="1.65"/>
<polygon points="252.21,259.45 254.44,264.94 250.04,264.97" fill="#96bbe0"/>
<polygon points="266.27,312.13 261.65,308.43 265.47,306.26" fill="#96bbe0"/>
<path d="M269.95,318.21 L271.51,320.56 L273.14,322.86 L274.83,325.13 L276.57,327.35 L278.37,329.52 L280.22,331.65 L282.13,333.73 L284.09,335.76 L286.11,337.73 L288.17,339.66 L290.28,341.53 L292.44,343.35 L294.64,345.11 L296.89,346.82 L299.19,348.46 L301.52,350.05 L303.89,351.58 L306.3,353.04 L308.75,354.44 L311.24,355.78 L313.75,357.06 L316.3,358.27 L318.88,359.41 L321.49,360.49 L324.13,361.5 L326.79,362.44 L329.47,363.32 L332.18,364.12 L334.9,364.86 L337.64,365.52" fill="none" stroke="#96bbe0" stroke-width="1.65"/>
<polygon points="267.71,314.62 272.4,318.24 268.62,320.48" fill="#96bbe0"/>
<polygon points="341.78,366.39 335.97,367.55 336.77,363.23" fill="#96bbe0"/>
<path d="M348.79,367.48 L349.07,367.51 L349.34,367.55 L349.61,367.58 L349.89,367.61 L350.16,367.64 L350.43,367.67 L350.71,367.7 L350.98,367.73 L351.26,367.75 L351.53,367.78 L351.8,367.81 L352.08,367.83 L352.35,367.86 L352.63,367.88 L352.9,367.91 L353.17,367.93 L353.45,367.95 L353.72,367.97 L354,367.99 L354.27,368.01 L354.55,368.03 L354.82,368.05 L355.1,368.07 L355.37,368.09 L355.64,368.1 L355.92,368.12 L356.19,368.14 L356.47,368.15 L356.74,368.16 L357.02,368.18" fill="none" stroke="#96bbe0" stroke-width="1.65"/>
<polygon points="344.61,366.88 350.4,365.62 349.68,369.96" fill="#96bbe0"/>
<polygon points="361.24,368.3 355.73,370.47 355.75,366.07" fill="#96bbe0"/>
<text x="246.8" y="291.8" font-size="10.5" text-anchor="middle" fill="#9dbde0" font-weight="bold">A</text>
<text x="299" y="359.5" font-size="11.5" text-anchor="middle" fill="#9dbde0" font-weight="bold">B</text>
<text x="352" y="378.2" font-size="11.5" text-anchor="middle" fill="#9dbde0" font-weight="bold">C</text>
<circle cx="226.91" cy="270.02" r="1.35" fill="#f01010"/>
<circle cx="228.2" cy="281.93" r="1.35" fill="#f01010"/>
<circle cx="230.55" cy="293.68" r="1.35" fill="#f01010"/>
<circle cx="233.94" cy="305.17" r="1.35" fill="#f01010"/>
<circle cx="238.34" cy="316.3" r="1.35" fill="#f01010"/>
<circle cx="243.73" cy="327" r="1.35" fill="#f01010"/>
<circle cx="250.06" cy="337.17" r="1.35" fill="#f01010"/>
<circle cx="257.27" cy="346.74" r="1.35" fill="#f01010"/>
<circle cx="265.31" cy="355.62" r="1.35" fill="#f01010"/>
<circle cx="274.11" cy="363.74" r="1.35" fill="#f01010"/>
<circle cx="283.6" cy="371.04" r="1.35" fill="#f01010"/>
<circle cx="293.71" cy="377.47" r="1.35" fill="#f01010"/>
<circle cx="304.36" cy="382.96" r="1.35" fill="#f01010"/>
<circle cx="315.45" cy="387.47" r="1.35" fill="#f01010"/>
<circle cx="326.91" cy="390.97" r="1.35" fill="#f01010"/>
<circle cx="338.63" cy="393.43" r="1.35" fill="#f01010"/>
<circle cx="350.53" cy="394.83" r="1.35" fill="#f01010"/>
<circle cx="362.5" cy="395.16" r="1.35" fill="#f01010"/>
<polygon points="231.8,258.5 225.8,255.6 225.8,261.4" fill="#f01010"/>
<path d="M231.1,258.1 L236.9,249" stroke="#f05050" stroke-width="0.5"/>
<path d="M253.6,344.6 L262.9,337.2 M253.6,344.6 L261.8,355.5" stroke="#f01010" stroke-width="1.3" fill="none"/>
<polygon points="265.4,335.2 263.24,339.22 260.99,336.41" fill="#f01010"/>
<polygon points="263.6,357.9 259.64,355.62 262.51,353.46" fill="#f01010"/>
<text x="269.7" y="337.2" font-size="7" text-anchor="middle" fill="#f01010" font-weight="bold">n</text>
<text x="264.6" y="365.8" font-size="7.6" text-anchor="middle" fill="#f01010" font-weight="bold">&#964;</text>
<text x="232.4" y="267.9" font-size="9" text-anchor="middle" fill="#111" font-weight="normal" stroke="#111" stroke-width="0.18">0&#176;</text>
<text x="249" y="322.8" font-size="9.5" text-anchor="middle" fill="#111" font-weight="normal" stroke="#111" stroke-width="0.18">30&#176;</text>
<text x="333.5" y="387.6" font-size="9.5" text-anchor="middle" fill="#111" font-weight="normal" stroke="#111" stroke-width="0.18">80&#176;</text>
<text x="373.7" y="393" font-size="9.5" text-anchor="middle" fill="#111" font-weight="normal" stroke="#111" stroke-width="0.18">90&#176;</text>
<text x="243.9" y="235.9" font-size="9.6" text-anchor="middle" fill="#111" font-weight="normal" textLength="99.3" lengthAdjust="spacingAndGlyphs" stroke="#111" stroke-width="0.18">The theoretical contour of</text>
<text x="243.3" y="246.8" font-size="9.6" text-anchor="middle" fill="#111" font-weight="normal" textLength="43.6" lengthAdjust="spacingAndGlyphs" stroke="#111" stroke-width="0.18">micro-fillet</text>
<rect x="218.4" y="380.2" width="49" height="10.8" fill="#fff"/>
<text x="219" y="389.1" font-size="9.6" text-anchor="start" fill="#111" font-weight="normal" textLength="45.2" lengthAdjust="spacingAndGlyphs" stroke="#111" stroke-width="0.18">Micro-fillet</text>
<path d="M198.9,258.3V419.6" stroke="#a2a2a2" stroke-width="1.9"/>
<path d="M192.8,258.3H198.8M194.3,293.3H198.8M192.8,328.1H198.8M194.3,362.5H198.8M192.8,396.8H198.8" stroke="#666" stroke-width="0.9"/>
<text x="189.9" y="261.6" font-size="9.5" text-anchor="end" fill="#111" font-weight="normal" textLength="16.2" lengthAdjust="spacingAndGlyphs" stroke="#111" stroke-width="0.18">0.00</text>
<text x="189.9" y="331.6" font-size="9.5" text-anchor="end" fill="#111" font-weight="normal" textLength="16.2" lengthAdjust="spacingAndGlyphs" stroke="#111" stroke-width="0.18">0.01</text>
<text x="189.9" y="400.9" font-size="9.5" text-anchor="end" fill="#111" font-weight="normal" textLength="16.2" lengthAdjust="spacingAndGlyphs" stroke="#111" stroke-width="0.18">0.02</text>
<text x="179.3" y="413.3" font-size="9.7" text-anchor="middle" fill="#111" font-weight="normal" textLength="14.9" lengthAdjust="spacingAndGlyphs" stroke="#111" stroke-width="0.18">mm</text>
<text x="277.9" y="436.9" font-size="9.5" text-anchor="middle" fill="#111" font-weight="normal" stroke-width="0">(<tspan font-weight="bold">c</tspan>)</text>
</svg>
</body></html>
